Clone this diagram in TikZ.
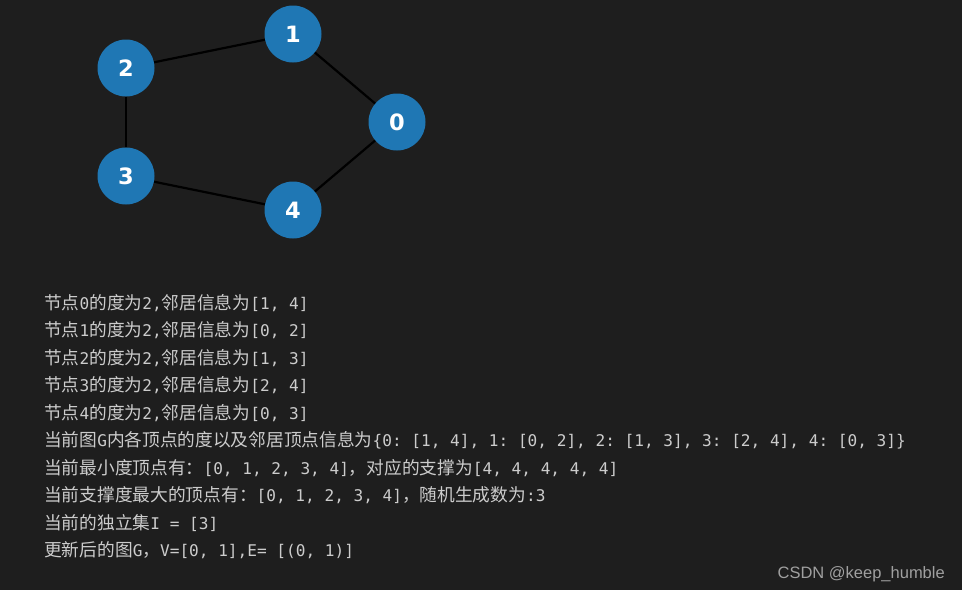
\documentclass[tikz,border=0pt]{standalone}
\usepackage{fontspec}
\usepackage{tikz}
\setmonofont{DejaVu Sans Mono}
\newfontfamily\cjkfont[Scale=1.1]{Noto Sans CJK SC}
\newfontfamily\labelfont{DejaVu Sans}
\newfontfamily\markfont{Liberation Sans}
\newcommand{\zh}[1]{{\cjkfont #1}}
\definecolor{bgcol}{HTML}{1E1E1E}
\definecolor{nodecol}{HTML}{1F77B4}
\definecolor{txtcol}{HTML}{CCCCCC}
\definecolor{markcol}{HTML}{A0A0A0}
\tikzset{
  vertex/.style={circle, fill=nodecol, minimum size=57pt, inner sep=0pt,
    text=white, font=\labelfont\bfseries\fontsize{22.5}{22.5}\selectfont},
  edge/.style={black, line width=2.2pt},
  outline/.style={anchor=base west, inner sep=0pt, text=txtcol,
    font=\ttfamily\fontsize{16.1}{18}\selectfont\frenchspacing}
}

\begin{document}
\begin{tikzpicture}[x=1pt,y=-1pt]
\fill [bgcol] (0,0) rectangle (962,590);
\useasboundingbox (0,0) rectangle (962,590);
% graph
\node [vertex] (n0) at (397,122) {0};
\node [vertex] (n1) at (293,34) {1};
\node [vertex] (n2) at (126,68) {2};
\node [vertex] (n3) at (126,176) {3};
\node [vertex] (n4) at (293,210) {4};
\draw [edge] (n0) -- (n1);
\draw [edge] (n1) -- (n2);
\draw [edge] (n2) -- (n3);
\draw [edge] (n3) -- (n4);
\draw [edge] (n4) -- (n0);
% console output
\node [outline] (l0) at (44,309) {\zh{节点}0\zh{的度为}2,\zh{邻居信息为}[1, 4]};
\node [outline] (l1) at (44,336.5) {\zh{节点}1\zh{的度为}2,\zh{邻居信息为}[0, 2]};
\node [outline] (l2) at (44,364) {\zh{节点}2\zh{的度为}2,\zh{邻居信息为}[1, 3]};
\node [outline] (l3) at (44,391.5) {\zh{节点}3\zh{的度为}2,\zh{邻居信息为}[2, 4]};
\node [outline] (l4) at (44,419) {\zh{节点}4\zh{的度为}2,\zh{邻居信息为}[0, 3]};
\node [outline] (l5) at (44,446.5) {\zh{当前图}G\zh{内各顶点的度以及邻居顶点信息为}\{0: [1, 4], 1: [0, 2], 2: [1, 3], 3: [2, 4], 4: [0, 3]\}};
\node [outline] (l6) at (44,474) {\zh{当前最小度顶点有：}[0, 1, 2, 3, 4]\zh{，对应的支撑为}[4, 4, 4, 4, 4]};
\node [outline] (l7) at (44,501.5) {\zh{当前支撑度最大的顶点有：}[0, 1, 2, 3, 4]\zh{，随机生成数为}:3};
\node [outline] (l8) at (44,529) {\zh{当前的独立集}I = [3]};
\node [outline] (l9) at (44,556.5) {\zh{更新后的图}G\zh{，}V=[0, 1],E= [(0, 1)]};
% watermark
\node [anchor=base east, inner sep=0pt, text=markcol,
  font=\markfont\fontsize{16.5}{18}\selectfont] (mark) at (945,578) {CSDN @keep\_humble};
\end{tikzpicture}
\end{document}
